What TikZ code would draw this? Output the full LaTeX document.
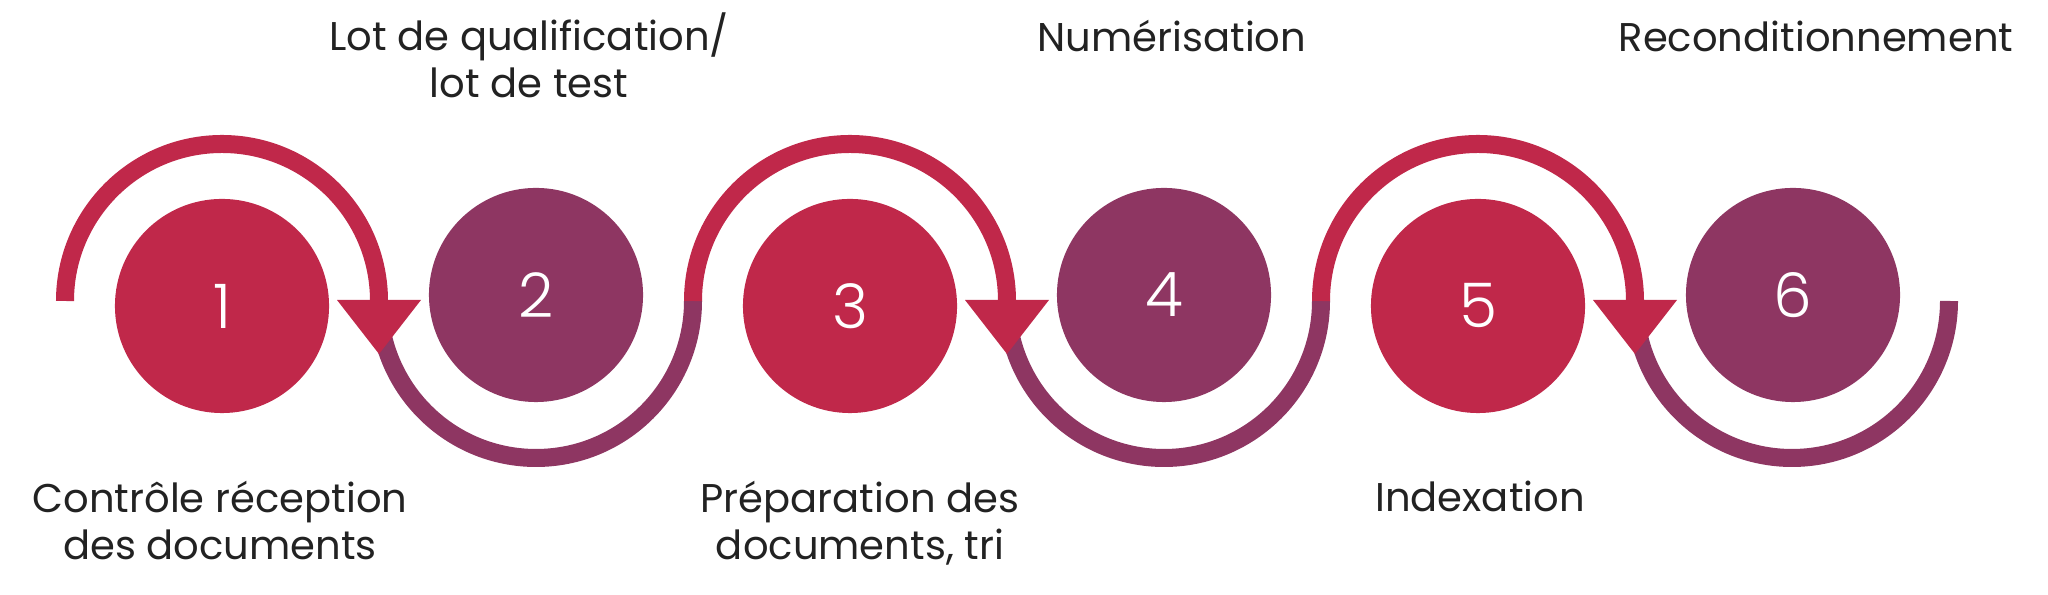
\documentclass[tikz,border=0pt]{standalone}
\usepackage{fontspec}
\setmainfont{Poppins}
\newfontfamily\digitfont{Poppins Light}
\usepackage{tikz}
\definecolor{stepred}{HTML}{C0284A}
\definecolor{steppurple}{HTML}{8E3662}
\definecolor{labelgray}{HTML}{222222}

\begin{document}
\begin{tikzpicture}[x=0.01cm, y=0.01cm,
    stepcircle/.style={circle, minimum size=2.14cm, inner sep=0pt, text=white, font=\digitfont\fontsize{17.5}{20}\selectfont},
    steplabel/.style={align=center, inner sep=0pt, text=labelgray, font=\fontsize{11.4}{13.4}\selectfont, anchor=base},
    pathline/.style={line width=0.18cm}]
    % Six steps along a winding path
    \useasboundingbox (0,0) rectangle (2048,595);
    \foreach \i in {0,...,6} \coordinate (j\i) at ({65+314*\i}, 294);

    \foreach \i in {1,3,5} \draw [pathline, steppurple] (j\i) arc[start angle=180, end angle=360, radius=157];
    \foreach \i in {0,2,4} \draw [pathline, stepred] (j\i) arc[start angle=180, end angle=0, radius=157];
    \foreach \i in {1,3,5} \fill [stepred] (j\i) ++(-42,1) -- ++(84,0) -- ++(-42,-54) -- cycle;

    \node (c1) at (222,289) [stepcircle, fill=stepred] {1};
    \node (c2) at (536,300) [stepcircle, fill=steppurple] {2};
    \node (c3) at (850,289) [stepcircle, fill=stepred] {3};
    \node (c4) at (1164,300) [stepcircle, fill=steppurple] {4};
    \node (c5) at (1478,289) [stepcircle, fill=stepred] {5};
    \node (c6) at (1793,300) [stepcircle, fill=steppurple] {6};

    \node (t1) at (220,35) [steplabel] {Contrôle réception\\des documents};
    \node (t2) at (529,497) [steplabel] {Lot de qualification/\\lot de test};
    \node (t3) at (860,35) [steplabel] {Préparation des\\documents, tri};
    \node (t4) at (1172,543) [steplabel] {Numérisation};
    \node (t5) at (1480,83) [steplabel] {Indexation};
    \node (t6) at (1816,543) [steplabel] {Reconditionnement};
\end{tikzpicture}
\end{document}
